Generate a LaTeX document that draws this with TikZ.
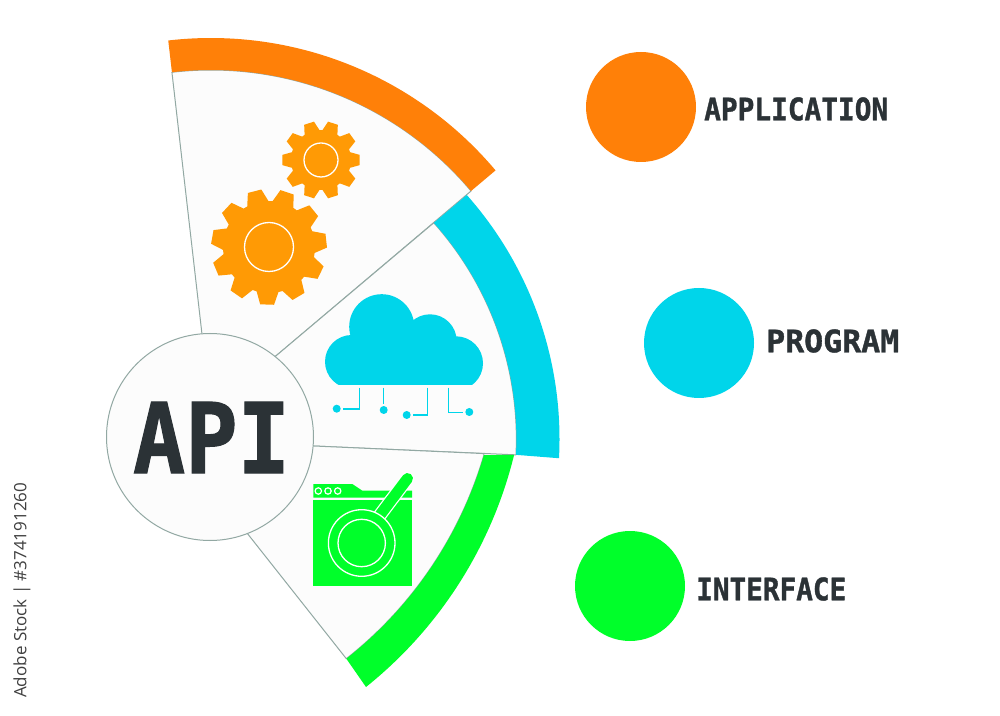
\documentclass[tikz,border=0pt]{standalone}
\usepackage{fontspec}
\setmainfont{Open Sans}
\newfontfamily\labelfont[BoldFont=DejaVu Sans Mono Bold,BoldFeatures={FakeBold=1.2}]{DejaVu Sans Mono}
\definecolor{orangeband}{HTML}{FF8008}
\definecolor{cyanband}{HTML}{00D5EA}
\definecolor{greenband}{HTML}{00FF2A}
\definecolor{gearcol}{HTML}{FF9A05}
\definecolor{edgecol}{HTML}{92A8A3}
\definecolor{wedgecol}{HTML}{FCFCFC}
\definecolor{inkcol}{HTML}{2B3236}
\newcommand{\sizedword}[3]{\resizebox{#1pt}{#2pt}{\labelfont\bfseries #3}}
% centre x, centre y, teeth, offset, root r, tip r
\newcommand{\drawgear}[6]{%
  \pgfmathsetmacro{\stepang}{360/#3}%
  \fill[gearcol,shift={(#1,#2)}] (#4-0.42*\stepang:#5)
    \foreach \k in {1,...,#3}{
      \pgfextra{\pgfmathsetmacro{\ang}{#4+(\k-1)*\stepang}}
      -- (\ang-0.42*\stepang:#5) -- (\ang-0.21*\stepang:#6) -- (\ang+0.21*\stepang:#6) -- (\ang+0.42*\stepang:#5) -- (\ang+0.5*\stepang:#5)
    } -- cycle;
}
\tikzset{
  x=1pt,y=1pt,
  wedge/.style={fill=wedgecol,draw=edgecol,line width=1pt,line join=round},
  wire/.style={draw=cyanband,line width=1.2pt},
  wiredot/.style={fill=cyanband},
  whiteline/.style={draw=white,line width=1.3pt},
  wordnode/.style={inner sep=0pt,text=inkcol,anchor=west},
  bigdot/.style={circle,minimum size=110pt,inner sep=0pt}
}
\begin{document}
\begin{tikzpicture}
\useasboundingbox (0,0) rectangle (1000,715);
\fill[white] (0,0) rectangle (1000,715);

% wedges
\path[wedge,shift={(211,305)}] (-8,67) -- (96.6:340) arc[start angle=96.6,end angle=40.1,radius=340] -- (57,47.4) -- cycle;
\path[wedge] (268,352.4) -- (192+241.8,276+216.2) arc[start angle=41.8,end angle=-2.8,radius=324.4] -- (305,269.4) -- cycle;
\path[wedge] (305,269.4) -- (484,261.4) -- (97+386.9,373-113.1) arc[start angle=-16.3,end angle=-51.8,radius=403] -- (247,182) -- cycle;

% bands
\fill[greenband] (97+386.9,373-113.1) arc[start angle=-16.3,end angle=-51.8,radius=403] -- (366,28) arc[start angle=-51.3,end angle=-13.77,radius=428] -- cycle;
\fill[cyanband,shift={(192,276)}] (41.8:324.4) -- (41.6:367.5) arc[start angle=41.6,end angle=-3,radius=367.5] -- (-2.8:324.4) arc[start angle=-2.8,end angle=41.8,radius=324.4] -- cycle;
\fill[orangeband,shift={(211,305)}] (96.6:340) -- (96.6:372) arc[start angle=96.6,end angle=40.1,radius=372] -- (40.1:340) arc[start angle=40.1,end angle=96.6,radius=340] -- cycle;

% gears
\drawgear{269}{468}{11}{6.3}{46}{58}
\draw[whiteline] (269,468) circle[radius=24.5];
\drawgear{321}{555}{10}{0}{30}{39}
\draw[whiteline] (321,555) circle[radius=17];

% cloud
\begin{scope}
\clip (320,330) rectangle (490,425);
\fill[cyanband] (351.7,353.3) circle[radius=26.7] (381.7,388.3) circle[radius=32.5] (430,374) circle[radius=26.7] (456,351.7) circle[radius=27];
\fill[cyanband] (345,330) rectangle (455,375);
\end{scope}
\draw[wire] (359.3,327.3) -- (359.3,306) -- (343.3,306);
\fill[wiredot] (336.7,306.3) circle[radius=4];
\draw[wire] (383.7,327.3) -- (383.7,311);
\fill[wiredot] (383.7,305) circle[radius=4];
\draw[wire] (427.7,327.3) -- (427.7,300) -- (413.3,300);
\fill[wiredot] (406.7,300) circle[radius=4];
\draw[wire] (448.3,327.3) -- (448.3,302.7) -- (463.3,302.7);
\fill[wiredot] (469.3,303) circle[radius=4];

% window
\fill[greenband] (313.3,129.3) rectangle (412,215);
\fill[greenband] (313.3,217.3) -- (313.3,231) -- (352.3,231) -- (362.3,224.3) -- (412,224.3) -- (412,217.3) -- cycle;
\foreach \cx in {318.3,328,337.7}
  \draw[draw=white,line width=1.2pt] (\cx,224) circle[radius=3.2];
\coordinate (handleA) at (380,200);
\coordinate (handleB) at (407.5,236.5);
\draw[white,line width=13.5pt,line cap=round] (handleA) -- (handleB);
\draw[greenband,line width=11pt,line cap=round] (handleA) -- (handleB);
\draw[whiteline,fill=greenband] (361.7,172) circle[radius=33.3];
\draw[whiteline] (361.7,172) circle[radius=23.7];

% API hub
\node[circle,minimum size=207pt,inner sep=0pt,fill=wedgecol,draw=edgecol,line width=1pt] (hub) at (210,278) {};
\node[inner sep=0pt,text=inkcol] (apiword) at (211.5,277.5) {\sizedword{157}{71}{API}};

% legend
\node[bigdot,fill=orangeband] (dotA) at (641,608) {};
\node[bigdot,fill=cyanband] (dotP) at (699,372) {};
\node[bigdot,fill=greenband] (dotI) at (630,129) {};
\node[wordnode] (wordA) at (704,606) {\sizedword{184}{23}{APPLICATION}};
\node[wordnode] (wordP) at (766,374) {\sizedword{133}{23}{PROGRAM}};
\node[wordnode] (wordI) at (696,126) {\sizedword{150}{23}{INTERFACE}};

% stock credit
\node[rotate=90,anchor=west,inner sep=0pt,text=black!75,font=\fontsize{17}{17}\selectfont] (credit) at (22,17) {Adobe Stock | \#374191260};
\end{tikzpicture}
\end{document}
